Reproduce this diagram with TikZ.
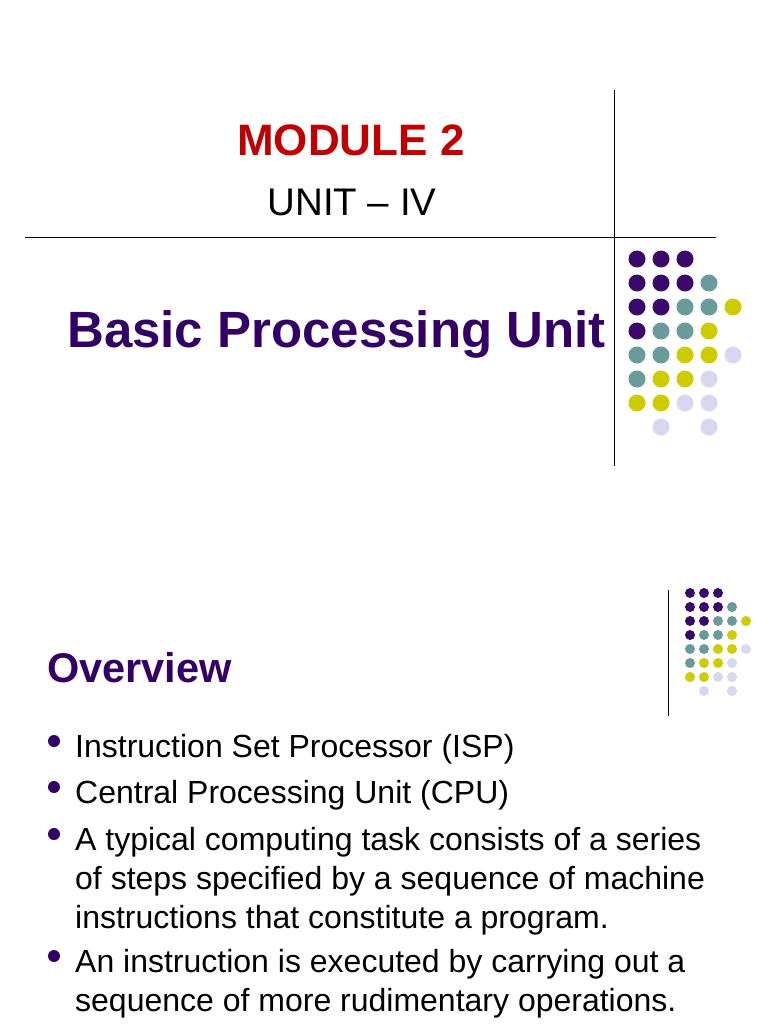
\documentclass[tikz,border=0pt]{standalone}
\usepackage{fontspec}
\setmainfont{Liberation Sans}
\definecolor{pp}{HTML}{3A0A6A}
\definecolor{tl}{HTML}{6A9A9A}
\definecolor{yl}{HTML}{CCCC00}
\definecolor{lv}{HTML}{D8D8EE}
\definecolor{rd}{HTML}{C00000}
\definecolor{tp}{HTML}{330066}
\begin{document}
\begin{tikzpicture}[x=1pt,y=-1pt,
  body/.style={anchor=base west,inner sep=0,font=\fontsize{32}{36}\selectfont},
  bul/.style={circle,fill=tp,inner sep=0,minimum size=12pt}]
\useasboundingbox (0,0) rectangle (768,1024);
\fill[white] (0,0) rectangle (768,1024);
\coordinate (v1) at (614,90); \coordinate (v2) at (614,466);
\coordinate (h1) at (25,237); \coordinate (h2) at (716,237);
\coordinate (v3) at (668,590); \coordinate (v4) at (668,716);
\draw[line width=1pt] (v1)--(v2) (h1)--(h2) (v3)--(v4);
\node[text=rd,font=\bfseries\fontsize{44}{50}\selectfont] (t1) at (351,140) {MODULE 2};
\node[font=\fontsize{38.5}{42}\selectfont] (t2) at (352,202) {UNIT – IV};
\node[text=tp,font=\bfseries\fontsize{51}{56}\selectfont,anchor=west,inner sep=0] (t3) at (67,334) {Basic Processing Unit};
\node[text=tp,font=\bfseries\fontsize{41.5}{46}\selectfont,anchor=west,inner sep=0] (ov) at (47,668) {Overview};
\def\grid#1#2#3#4{%
 \foreach \r/\row in {0/{pp,pp,pp,,},1/{pp,pp,pp,tl,},2/{pp,pp,tl,tl,yl},3/{pp,tl,tl,yl,},4/{tl,tl,yl,yl,lv},5/{tl,yl,yl,lv,},6/{yl,yl,lv,lv,},7/{,lv,,lv,}}{%
  \foreach \c [count=\i from 0] in \row {%
   \ifx\c\empty\else\fill[\c] ({#1+\i*#3},{#2+\r*#3}) circle (#4);\fi}}}
\grid{637}{259}{24}{8.5}
\grid{690}{593}{14}{5}
\foreach \y/\t in {757/Instruction Set Processor (ISP),803/Central Processing Unit (CPU),850/A typical computing task consists of a series,889/of steps specified by a sequence of machine,928/instructions that constitute a program.,972/An instruction is executed by carrying out a,1011/sequence of more rudimentary operations.}{
  \node[body] (l\y) at (75,\y) {\t};}
\foreach \y in {741,787,834,956}{\node[bul] (b\y) at (54,\y) {};}
\end{tikzpicture}
\end{document}
